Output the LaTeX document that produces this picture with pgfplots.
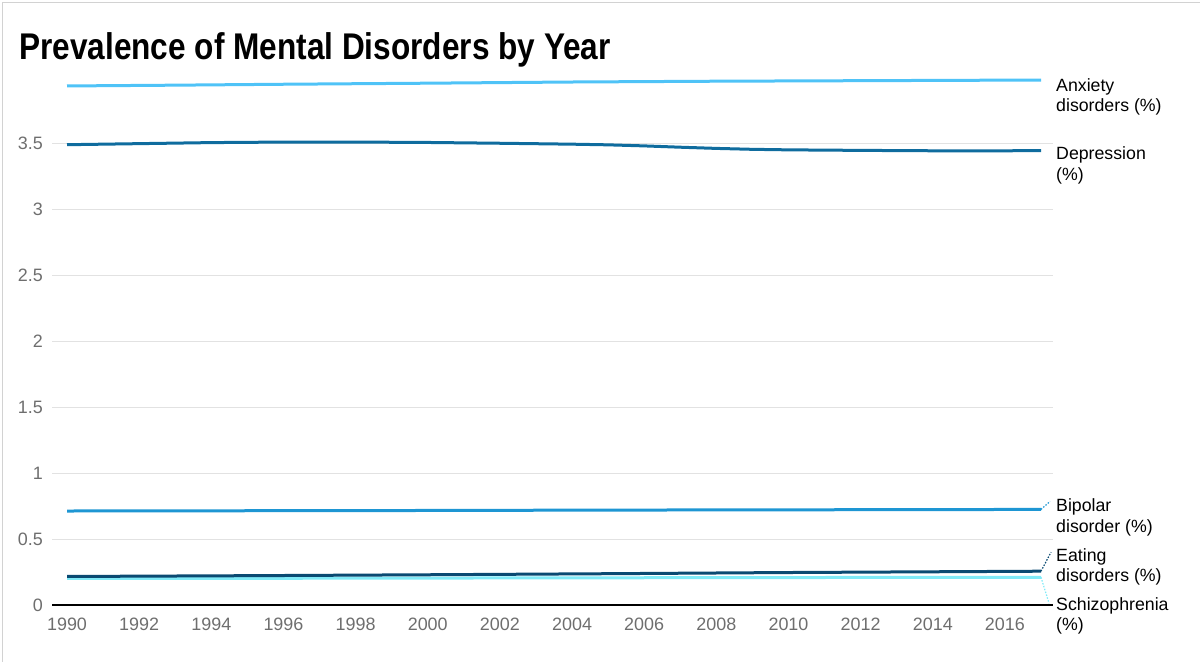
\documentclass[border=0pt]{standalone}
\usepackage{pgfplots}
\pgfplotsset{compat=1.18}
\usepackage{fontspec}
\setmainfont{Liberation Sans}
\newfontfamily\titlefont{Liberation Sans}[FakeStretch=0.85]
\definecolor{anx}{HTML}{4FC3F7}
\definecolor{dep}{HTML}{0F6C9E}
\definecolor{bip}{HTML}{1E96D3}
\definecolor{eat}{HTML}{0A4A72}
\definecolor{sch}{HTML}{80EAF7}
\definecolor{tickgray}{HTML}{6E6E6E}
\definecolor{gridgray}{HTML}{E2E2E2}
\begin{document}
\begin{tikzpicture}[x=1bp,y=1bp]
\path[use as bounding box] (0,0) rectangle (1200,662);
\draw[gray!35, line width=1bp] (2.5,0) -- (2.5,659.5) -- (1200,659.5);
\node[anchor=base west, inner sep=0] at (19,602) {\titlefont\bfseries\fontsize{37.3}{40}\selectfont Prevalence of Mental Disorders by Year};
\begin{axis}[
  at={(52bp,57bp)}, anchor=south west, scale only axis,
  width=1001bp, height=528bp,
  xmin=1989.584, xmax=2017.333, ymin=0, ymax=4,
  axis x line*=bottom, axis y line*=left,
  x axis line style={black, line width=1.2bp, -},
  y axis line style={draw=none},
  major tick length=0pt,
  xtick={1990,1992,...,2016},
  ytick={0,0.5,1,1.5,2,2.5,3,3.5},
  yticklabels={0,0.5,1,1.5,2,2.5,3,3.5},
  ymajorgrids, grid style={gridgray, line width=0.9bp},
  /pgf/number format/1000 sep={},
  /pgf/number format/assume math mode=true,
  ticklabel style={font=\fontsize{18}{20}\selectfont, text=tickgray},
  xticklabel style={anchor=base, yshift=-26bp, inner sep=0pt},
  yticklabel style={anchor=east, xshift=-9bp, inner sep=0pt},
  clip=false,
]
\addplot[anx, line width=3bp] coordinates {
(1990,3.932) (1993,3.938) (1996,3.945) (2000,3.953) (2004,3.962) (2008,3.968) (2012,3.972) (2017,3.977)};
\addplot[dep, line width=3bp] coordinates {
(1990,3.487) (1992,3.495) (1994,3.503) (1996,3.507) (1998,3.507) (2000,3.504) (2002,3.498) (2004,3.491) (2005,3.486) (2006,3.478) (2007,3.468) (2008,3.459) (2009,3.452) (2010,3.448) (2012,3.444) (2014,3.441) (2016,3.441) (2017,3.442)};
\addplot[bip, line width=3bp] coordinates {
(1990,0.712) (1995,0.714) (2000,0.716) (2005,0.719) (2010,0.721) (2017,0.724)};
\addplot[sch, line width=3bp] coordinates {
(1990,0.201) (1995,0.202) (2000,0.204) (2005,0.206) (2010,0.208) (2017,0.210)};
\addplot[eat, line width=3bp] coordinates {
(1990,0.216) (1995,0.222) (2000,0.229) (2005,0.237) (2010,0.246) (2015,0.253) (2017,0.256)};
\draw[bip, line width=1.2bp, dash pattern=on 1.5bp off 1.5bp] (axis cs:2017,0.724) -- ++(9bp,8bp);
\draw[eat, line width=1.2bp, dash pattern=on 1.5bp off 1.5bp] (axis cs:2017,0.256) -- ++(10bp,19bp);
\draw[sch, line width=1.2bp, dash pattern=on 1.5bp off 1.5bp] (axis cs:2017,0.210) -- ++(8bp,-26bp);
\end{axis}
\tikzset{lab/.style={anchor=base west, inner sep=0, font=\fontsize{17.8}{20}\selectfont}}
\node[lab] at (1056,570) {Anxiety};
\node[lab] at (1056,550) {disorders (\%)};
\node[lab] at (1056,502) {Depression};
\node[lab] at (1056,481) {(\%)};
\node[lab] at (1056,150) {Bipolar};
\node[lab] at (1056,129) {disorder (\%)};
\node[lab] at (1056,100) {Eating};
\node[lab] at (1056,80) {disorders (\%)};
\node[lab] at (1056,51) {Schizophrenia};
\node[lab] at (1056,31) {(\%)};
\end{tikzpicture}
\end{document}
